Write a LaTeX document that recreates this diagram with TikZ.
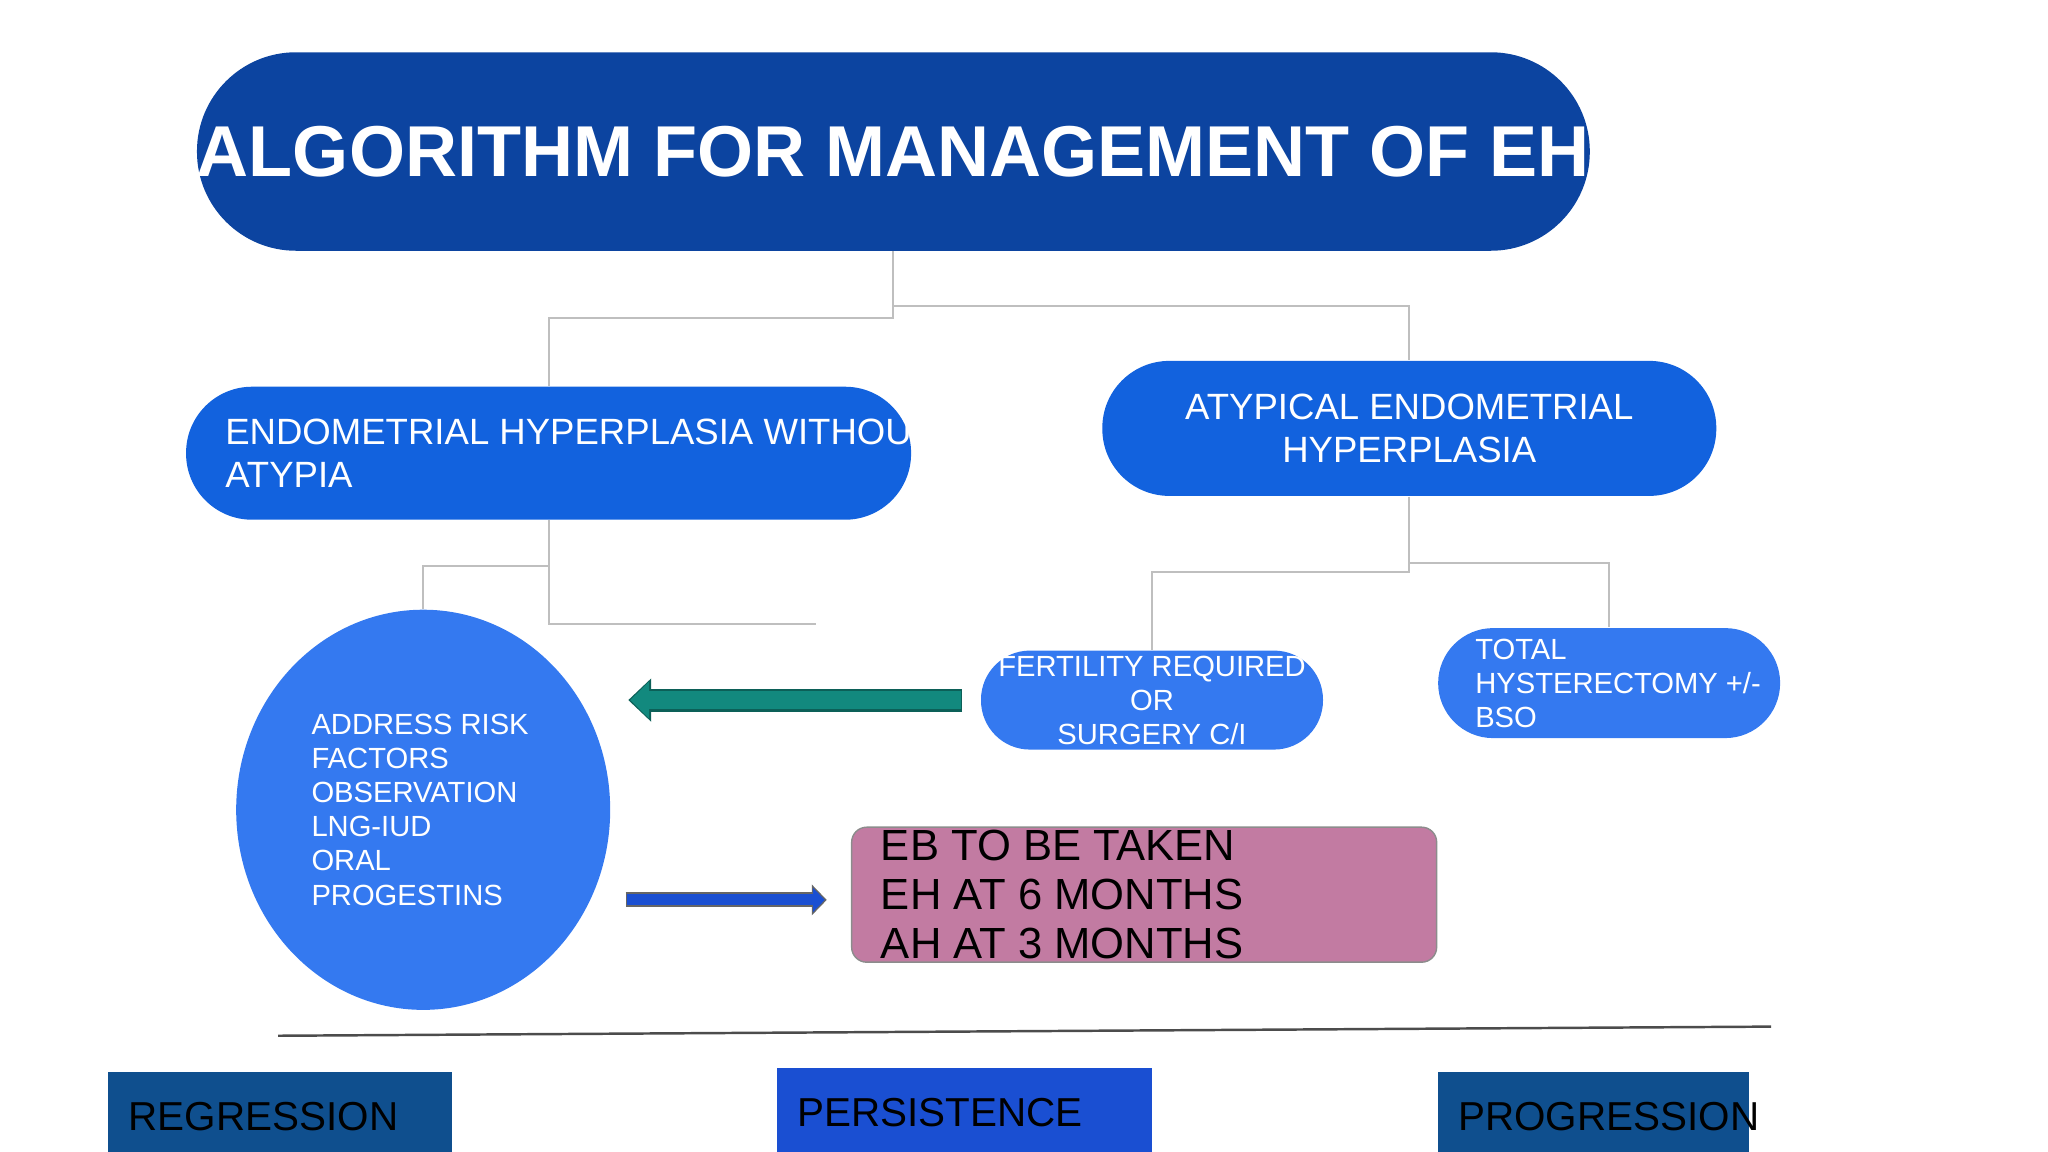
\documentclass[tikz,border=0pt]{standalone}
\usepackage{fontspec}
\setmainfont{Liberation Sans}
\usetikzlibrary{positioning, arrows.meta}
\definecolor{titleblue}{HTML}{0C44A0}
\definecolor{boxblue}{HTML}{1262DE}
\definecolor{lightblue}{HTML}{3479F0}
\definecolor{tealarrow}{HTML}{12897E}
\definecolor{pinkbox}{HTML}{C27BA2}
\definecolor{navy}{HTML}{0F4F8E}
\definecolor{midblue}{HTML}{1A4FD2}

\begin{document}
\begin{tikzpicture}[x=0.01306cm, y=-0.01306cm,
    pill/.style={fill=boxblue, text=white, inner sep=0pt},
    link/.style={draw=black!25, line width=0.6pt},
    outcome/.style={inner sep=0pt, font=\fontsize{11.5}{13}\selectfont}]
    \useasboundingbox (0,0) rectangle (1568,882);
    \clip (0,0) rectangle (1568,882);
    % title
    \node[pill, fill=titleblue, minimum width=12.21cm, minimum height=1.985cm, rounded corners=0.99cm,
        font=\fontsize{20.5}{24}\selectfont\bfseries] (title) at (684,116) {ALGORITHM FOR MANAGEMENT OF EH};
    % second level
    \node[pill, minimum width=7.25cm, minimum height=1.33cm, rounded corners=0.66cm] (noatyp) at (420,347) {};
    \node[text=white, align=left, anchor=west, font=\fontsize{10.4}{12.5}\selectfont] at (163,347)
        {ENDOMETRIAL HYPERPLASIA WITHOUT\\ATYPIA};
    \node[pill, minimum width=6.14cm, minimum height=1.35cm, rounded corners=0.67cm, align=center,
        font=\fontsize{10.4}{12.5}\selectfont] (atyp) at (1079,328) {ATYPICAL ENDOMETRIAL\\HYPERPLASIA};
    % third level
    \node[circle, fill=lightblue, minimum size=3.74cm, yscale=1.07, inner sep=0pt] (risk) at (324,620) {};
    \node[text=white, align=left, anchor=west, font=\fontsize{8.3}{9.7}\selectfont] at (229,620)
        {ADDRESS RISK\\FACTORS\\OBSERVATION\\LNG-IUD\\ORAL\\PROGESTINS};
    \node[pill, fill=lightblue, minimum width=3.42cm, minimum height=0.99cm, rounded corners=0.49cm, align=center,
        font=\fontsize{8.3}{9.7}\selectfont] (fert) at (882,536) {FERTILITY REQUIRED\\OR\\SURGERY C/I};
    \node[pill, fill=lightblue, minimum width=3.42cm, minimum height=1.10cm, rounded corners=0.55cm] (tah) at (1232,523) {};
    \node[text=white, align=left, anchor=west, font=\fontsize{8.3}{9.7}\selectfont] at (1120,523)
        {TOTAL\\HYSTERECTOMY +/-\\BSO};
    \node[fill=pinkbox, draw=black!45, rounded corners=0.15cm, minimum width=5.85cm, minimum height=1.35cm] (eb) at (876,685) {};
    \node[align=left, anchor=west, font=\fontsize{12.4}{13.9}\selectfont] at (665,685)
        {EB TO BE TAKEN\\EH AT 6 MONTHS\\AH AT 3 MONTHS};
    % connectors
    \draw[link] (title.south) -- ++(0,51) -| (noatyp.north);
    \draw[link] (title.south) ++(0,42) -| (atyp.north);
    \draw[link] (noatyp.south) -- ++(0,79) -- ++(205,0);
    \draw[link] (noatyp.south) ++(0,35) -| (risk.north);
    \draw[link] (atyp.south) -- ++(0,58) -| (fert.north);
    \draw[link] (atyp.south) ++(0,51) -| (tah.north);
    % arrows
    \coordinate (tealend) at (481,536);
    \coordinate (blueend) at (633,689);
    \draw[tealarrow!70!black, line width=0.23cm, -{Triangle[length=0.23cm,width=0.42cm]}] (fert.west) ++(-14,0) -- (tealend);
    \draw[tealarrow, line width=0.18cm, -{Triangle[length=0.19cm,width=0.36cm]}] (fert.west) ++(-15,0) -- ([xshift=0.02cm]tealend);
    \draw[black!60, line width=0.15cm, -{Triangle[length=0.15cm,width=0.3cm]}] (479,689) -- (blueend);
    \draw[midblue, line width=0.11cm, -{Triangle[length=0.12cm,width=0.24cm]}] (480,689) -- ([xshift=-0.02cm]blueend);
    % divider
    \draw[black!70, line width=0.7pt] (213,793) -- (1356,786);
    % outcomes
    \fill[navy] (83,821) rectangle (346,890);
    \node[outcome, anchor=west] (regr) at (98,855) {REGRESSION};
    \fill[midblue] (595,818) rectangle (882,890);
    \node[outcome, anchor=west] (pers) at (610,852) {PERSISTENCE};
    \fill[navy] (1101,821) rectangle (1339,890);
    \node[outcome, anchor=west] (progr) at (1116,855) {PROGRESSION};
\end{tikzpicture}
\end{document}
